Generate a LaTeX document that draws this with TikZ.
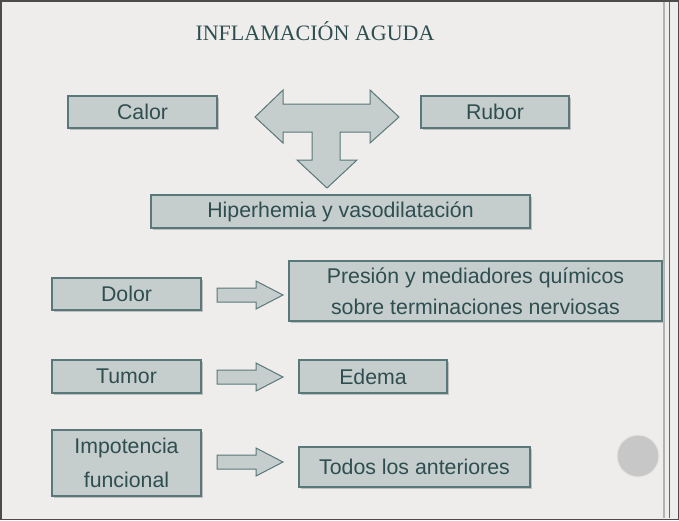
\documentclass[tikz,border=0pt]{standalone}
\usepackage{fontspec}
\setmainfont{Liberation Sans}
\newfontfamily\titlefont{Liberation Serif}
\definecolor{bg}{HTML}{EFEDEB}
\definecolor{bfill}{HTML}{C6CDCD}
\definecolor{bdraw}{HTML}{587879}
\definecolor{txt}{HTML}{2E4E50}
\tikzset{
 bx/.style={draw=bdraw,line width=1.2pt,fill=bfill,text=txt,font=\fontsize{21.3}{31}\selectfont,align=center,inner sep=0pt},
 arr/.style={draw=bdraw,line width=1pt,fill=bfill,line join=miter}
}
\begin{document}
\begin{tikzpicture}[x=1pt,y=-1pt]
\useasboundingbox (0,0) rectangle (679,520);
\fill[bg] (0,0) rectangle (679,520);
\draw[black!70,line width=1.5pt] (0.75,0.75) rectangle (678.25,519.25);
\draw[gray!60,line width=2pt] (664,2) -- (664,518);
\draw[black!60,line width=1pt] (669,2) -- (669,518);
\node[text=txt,font=\titlefont\fontsize{22}{24}\selectfont] (title) at (315,31) {INFLAMACIÓN AGUDA};
\foreach \n/\a/\b/\c/\d/\t in {calor/68/96/217/128/Calor, rubor/421/96/569/128/Rubor, hip/151/195/530/228/Hiperhemia y vasodilatación, dolor/52/278/201/310/Dolor, pres/289/261/662/321/{Presión y mediadores químicos\\sobre terminaciones nerviosas}, tumor/52/360/201/393/Tumor, edema/299/360/447/393/Edema, imp/52/430/201/496/{Impotencia\\[3pt]funcional}, todos/299/447/530/487/Todos los anteriores}{
 \fill[black!25] (\a+2,\b+2) rectangle (\c+2,\d+2);
 \node[bx,minimum width={\c-\a},minimum height={\d-\b}] (\n) at ({(\a+\c)/2},{(\b+\d)/2}) {\t};
}
% T arrow
\draw[arr] (255,117) -- (283,90) -- (283,104) -- (370,104) -- (370,90) -- (399,117) -- (370,143) -- (370,132) -- (340,132) -- (340,160) -- (357,160) -- (327,188) -- (297,160) -- (312,160) -- (312,132) -- (283,132) -- (283,143) -- cycle;
% small arrows
\foreach \y in {295,377,462}{
 \draw[arr] (217,\y-7) -- (256,\y-7) -- (256,\y-14) -- (283,\y) -- (256,\y+14) -- (256,\y+7) -- (217,\y+7) -- cycle;
}
\node[circle,fill=black!22,draw=black!10,line width=1pt,minimum size=42pt] (dot) at (638,456) {};
\end{tikzpicture}
\end{document}
